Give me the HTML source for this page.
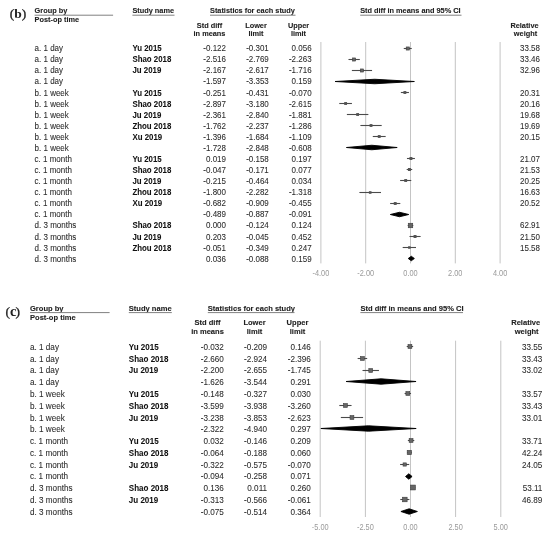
<!DOCTYPE html>
<html><head><meta charset="utf-8"><title>Forest plots</title><style>
html,body{margin:0;padding:0;background:#fff;}
svg{display:block;filter:blur(0.3px);}
text{font-family:"Liberation Sans",Arial,sans-serif;}
.lab{font-family:"Liberation Serif","Times New Roman",serif;font-weight:bold;font-size:13.5px;fill:#222;}
.hd{font-weight:bold;font-size:7.35px;fill:#222;stroke:#222;stroke-width:0.1px;}
.sn{font-weight:bold;font-size:8.3px;fill:#111;stroke:#111;stroke-width:0.05px;}
.gp{font-size:8.25px;fill:#2c2c2c;stroke:#2c2c2c;stroke-width:0.08px;}
.nm{font-size:8.25px;fill:#2a2a2a;stroke:#2a2a2a;stroke-width:0.06px;}
.pc .lt{font-size:14.5px;}
.pr{font-weight:normal;stroke:#222;stroke-width:0.3px;}
.ax{font-size:8.2px;fill:#9a9a9a;}
.pc .gp{font-size:8.4px;}
.pc .hd{font-size:7.55px;}
.pc .nm{font-size:8.4px;}
.pc .sn{font-size:8.45px;}
</style></head>
<body><svg width="550" height="534" viewBox="0 0 550 534">
<rect width="550" height="534" fill="#fff"/>
<g class="pb">
<text x="9.80" y="18.20" class="lab"><tspan class="pr">(</tspan><tspan class="lt">b</tspan><tspan class="pr" dx="0">)</tspan></text>
<text x="34.60" y="13.10" class="hd">Group by</text>
<text x="34.60" y="22.10" class="hd">Post-op time</text>
<line x1="34.60" y1="15.20" x2="113.10" y2="15.20" stroke="#808080" stroke-width="1"/>
<text x="132.40" y="13.10" class="hd">Study name</text>
<line x1="132.40" y1="15.20" x2="174.50" y2="15.20" stroke="#808080" stroke-width="1"/>
<text x="210.00" y="13.10" class="hd">Statistics for each study</text>
<line x1="210.00" y1="15.20" x2="295.50" y2="15.20" stroke="#808080" stroke-width="1"/>
<text x="360.20" y="13.10" class="hd">Std diff in means and 95% CI</text>
<line x1="360.20" y1="15.20" x2="461.50" y2="15.20" stroke="#808080" stroke-width="1"/>
<text x="209.50" y="27.50" class="hd" text-anchor="middle">Std diff</text>
<text x="209.50" y="35.60" class="hd" text-anchor="middle">in means</text>
<text x="256.00" y="27.50" class="hd" text-anchor="middle">Lower</text>
<text x="256.00" y="35.60" class="hd" text-anchor="middle">limit</text>
<text x="298.50" y="27.50" class="hd" text-anchor="middle">Upper</text>
<text x="298.50" y="35.60" class="hd" text-anchor="middle">limit</text>
<text x="524.50" y="27.50" class="hd" text-anchor="middle">Relative</text>
<text x="525.50" y="35.60" class="hd" text-anchor="middle">weight</text>
<line x1="320.90" y1="42.00" x2="320.90" y2="263.40" stroke="#c4c4c4" stroke-width="1"/>
<text transform="translate(320.90 275.80) scale(0.9 1)" class="ax" text-anchor="middle">-4.00</text>
<line x1="365.70" y1="42.00" x2="365.70" y2="263.40" stroke="#c4c4c4" stroke-width="1"/>
<text transform="translate(365.70 275.80) scale(0.9 1)" class="ax" text-anchor="middle">-2.00</text>
<line x1="410.50" y1="42.00" x2="410.50" y2="263.40" stroke="#c4c4c4" stroke-width="1"/>
<text transform="translate(410.50 275.80) scale(0.9 1)" class="ax" text-anchor="middle">0.00</text>
<line x1="455.30" y1="42.00" x2="455.30" y2="263.40" stroke="#c4c4c4" stroke-width="1"/>
<text transform="translate(455.30 275.80) scale(0.9 1)" class="ax" text-anchor="middle">2.00</text>
<line x1="500.10" y1="42.00" x2="500.10" y2="263.40" stroke="#c4c4c4" stroke-width="1"/>
<text transform="translate(500.10 275.80) scale(0.9 1)" class="ax" text-anchor="middle">4.00</text>
<text transform="translate(34.60 51.20) scale(0.97 1)" class="gp">a. 1 day</text>
<text transform="translate(132.40 51.20) scale(0.95 1)" class="sn">Yu 2015</text>
<text transform="translate(226.00 51.20) scale(0.97 1)" class="nm" text-anchor="end">-0.122</text>
<text transform="translate(268.80 51.20) scale(0.97 1)" class="nm" text-anchor="end">-0.301</text>
<text transform="translate(311.60 51.20) scale(0.97 1)" class="nm" text-anchor="end">0.056</text>
<text transform="translate(540.00 51.20) scale(0.97 1)" class="nm" text-anchor="end">33.58</text>
<line x1="403.76" y1="48.50" x2="411.75" y2="48.50" stroke="#4a4a4a" stroke-width="1.1"/>
<rect x="406.21" y="46.95" width="3.11" height="3.11" fill="#666" stroke="#3c3c3c" stroke-width="0.6"/>
<text transform="translate(34.60 62.28) scale(0.97 1)" class="gp">a. 1 day</text>
<text transform="translate(132.40 62.28) scale(0.95 1)" class="sn">Shao 2018</text>
<text transform="translate(226.00 62.28) scale(0.97 1)" class="nm" text-anchor="end">-2.516</text>
<text transform="translate(268.80 62.28) scale(0.97 1)" class="nm" text-anchor="end">-2.769</text>
<text transform="translate(311.60 62.28) scale(0.97 1)" class="nm" text-anchor="end">-2.263</text>
<text transform="translate(540.00 62.28) scale(0.97 1)" class="nm" text-anchor="end">33.46</text>
<line x1="348.47" y1="59.50" x2="359.81" y2="59.50" stroke="#4a4a4a" stroke-width="1.1"/>
<rect x="352.59" y="57.95" width="3.10" height="3.10" fill="#666" stroke="#3c3c3c" stroke-width="0.6"/>
<text transform="translate(34.60 73.36) scale(0.97 1)" class="gp">a. 1 day</text>
<text transform="translate(132.40 73.36) scale(0.95 1)" class="sn">Ju 2019</text>
<text transform="translate(226.00 73.36) scale(0.97 1)" class="nm" text-anchor="end">-2.167</text>
<text transform="translate(268.80 73.36) scale(0.97 1)" class="nm" text-anchor="end">-2.617</text>
<text transform="translate(311.60 73.36) scale(0.97 1)" class="nm" text-anchor="end">-1.716</text>
<text transform="translate(540.00 73.36) scale(0.97 1)" class="nm" text-anchor="end">32.96</text>
<line x1="351.88" y1="70.50" x2="372.06" y2="70.50" stroke="#4a4a4a" stroke-width="1.1"/>
<rect x="360.42" y="68.96" width="3.07" height="3.07" fill="#666" stroke="#3c3c3c" stroke-width="0.6"/>
<text transform="translate(34.60 84.44) scale(0.97 1)" class="gp">a. 1 day</text>
<text transform="translate(226.00 84.44) scale(0.97 1)" class="nm" text-anchor="end">-1.597</text>
<text transform="translate(268.80 84.44) scale(0.97 1)" class="nm" text-anchor="end">-3.353</text>
<text transform="translate(311.60 84.44) scale(0.97 1)" class="nm" text-anchor="end">0.159</text>
<polygon points="335.09,81.50 374.73,79.25 414.36,81.50 374.73,83.75" fill="#000" stroke="#000" stroke-width="0.9" stroke-linejoin="round"/>
<text transform="translate(34.60 95.52) scale(0.97 1)" class="gp">b. 1 week</text>
<text transform="translate(132.40 95.52) scale(0.95 1)" class="sn">Yu 2015</text>
<text transform="translate(226.00 95.52) scale(0.97 1)" class="nm" text-anchor="end">-0.251</text>
<text transform="translate(268.80 95.52) scale(0.97 1)" class="nm" text-anchor="end">-0.431</text>
<text transform="translate(311.60 95.52) scale(0.97 1)" class="nm" text-anchor="end">-0.070</text>
<text transform="translate(540.00 95.52) scale(0.97 1)" class="nm" text-anchor="end">20.31</text>
<line x1="400.85" y1="92.50" x2="408.93" y2="92.50" stroke="#4a4a4a" stroke-width="1.1"/>
<rect x="403.44" y="91.06" width="2.88" height="2.88" fill="#525252"/>
<text transform="translate(34.60 106.60) scale(0.97 1)" class="gp">b. 1 week</text>
<text transform="translate(132.40 106.60) scale(0.95 1)" class="sn">Shao 2018</text>
<text transform="translate(226.00 106.60) scale(0.97 1)" class="nm" text-anchor="end">-2.897</text>
<text transform="translate(268.80 106.60) scale(0.97 1)" class="nm" text-anchor="end">-3.180</text>
<text transform="translate(311.60 106.60) scale(0.97 1)" class="nm" text-anchor="end">-2.615</text>
<text transform="translate(540.00 106.60) scale(0.97 1)" class="nm" text-anchor="end">20.16</text>
<line x1="339.27" y1="103.50" x2="351.92" y2="103.50" stroke="#4a4a4a" stroke-width="1.1"/>
<rect x="344.17" y="102.06" width="2.87" height="2.87" fill="#525252"/>
<text transform="translate(34.60 117.68) scale(0.97 1)" class="gp">b. 1 week</text>
<text transform="translate(132.40 117.68) scale(0.95 1)" class="sn">Ju 2019</text>
<text transform="translate(226.00 117.68) scale(0.97 1)" class="nm" text-anchor="end">-2.361</text>
<text transform="translate(268.80 117.68) scale(0.97 1)" class="nm" text-anchor="end">-2.840</text>
<text transform="translate(311.60 117.68) scale(0.97 1)" class="nm" text-anchor="end">-1.881</text>
<text transform="translate(540.00 117.68) scale(0.97 1)" class="nm" text-anchor="end">19.68</text>
<line x1="346.88" y1="114.50" x2="368.37" y2="114.50" stroke="#4a4a4a" stroke-width="1.1"/>
<rect x="356.19" y="113.08" width="2.84" height="2.84" fill="#525252"/>
<text transform="translate(34.60 128.76) scale(0.97 1)" class="gp">b. 1 week</text>
<text transform="translate(132.40 128.76) scale(0.95 1)" class="sn">Zhou 2018</text>
<text transform="translate(226.00 128.76) scale(0.97 1)" class="nm" text-anchor="end">-1.762</text>
<text transform="translate(268.80 128.76) scale(0.97 1)" class="nm" text-anchor="end">-2.237</text>
<text transform="translate(311.60 128.76) scale(0.97 1)" class="nm" text-anchor="end">-1.286</text>
<text transform="translate(540.00 128.76) scale(0.97 1)" class="nm" text-anchor="end">19.69</text>
<line x1="360.39" y1="125.50" x2="381.69" y2="125.50" stroke="#4a4a4a" stroke-width="1.1"/>
<rect x="369.61" y="124.08" width="2.84" height="2.84" fill="#525252"/>
<text transform="translate(34.60 139.84) scale(0.97 1)" class="gp">b. 1 week</text>
<text transform="translate(132.40 139.84) scale(0.95 1)" class="sn">Xu 2019</text>
<text transform="translate(226.00 139.84) scale(0.97 1)" class="nm" text-anchor="end">-1.396</text>
<text transform="translate(268.80 139.84) scale(0.97 1)" class="nm" text-anchor="end">-1.684</text>
<text transform="translate(311.60 139.84) scale(0.97 1)" class="nm" text-anchor="end">-1.109</text>
<text transform="translate(540.00 139.84) scale(0.97 1)" class="nm" text-anchor="end">20.15</text>
<line x1="372.78" y1="136.50" x2="385.66" y2="136.50" stroke="#4a4a4a" stroke-width="1.1"/>
<rect x="377.79" y="135.06" width="2.87" height="2.87" fill="#525252"/>
<text transform="translate(34.60 150.92) scale(0.97 1)" class="gp">b. 1 week</text>
<text transform="translate(226.00 150.92) scale(0.97 1)" class="nm" text-anchor="end">-1.728</text>
<text transform="translate(268.80 150.92) scale(0.97 1)" class="nm" text-anchor="end">-2.848</text>
<text transform="translate(311.60 150.92) scale(0.97 1)" class="nm" text-anchor="end">-0.608</text>
<polygon points="346.40,147.50 371.79,145.25 397.18,147.50 371.79,149.75" fill="#000" stroke="#000" stroke-width="0.9" stroke-linejoin="round"/>
<text transform="translate(34.60 162.00) scale(0.97 1)" class="gp">c. 1 month</text>
<text transform="translate(132.40 162.00) scale(0.95 1)" class="sn">Yu 2015</text>
<text transform="translate(226.00 162.00) scale(0.97 1)" class="nm" text-anchor="end">0.019</text>
<text transform="translate(268.80 162.00) scale(0.97 1)" class="nm" text-anchor="end">-0.158</text>
<text transform="translate(311.60 162.00) scale(0.97 1)" class="nm" text-anchor="end">0.197</text>
<text transform="translate(540.00 162.00) scale(0.97 1)" class="nm" text-anchor="end">21.07</text>
<line x1="406.96" y1="158.50" x2="414.91" y2="158.50" stroke="#4a4a4a" stroke-width="1.1"/>
<rect x="409.46" y="157.03" width="2.94" height="2.94" fill="#525252"/>
<text transform="translate(34.60 173.08) scale(0.97 1)" class="gp">c. 1 month</text>
<text transform="translate(132.40 173.08) scale(0.95 1)" class="sn">Shao 2018</text>
<text transform="translate(226.00 173.08) scale(0.97 1)" class="nm" text-anchor="end">-0.047</text>
<text transform="translate(268.80 173.08) scale(0.97 1)" class="nm" text-anchor="end">-0.171</text>
<text transform="translate(311.60 173.08) scale(0.97 1)" class="nm" text-anchor="end">0.077</text>
<text transform="translate(540.00 173.08) scale(0.97 1)" class="nm" text-anchor="end">21.53</text>
<line x1="406.67" y1="169.50" x2="412.22" y2="169.50" stroke="#4a4a4a" stroke-width="1.1"/>
<rect x="407.96" y="168.02" width="2.97" height="2.97" fill="#525252"/>
<text transform="translate(34.60 184.16) scale(0.97 1)" class="gp">c. 1 month</text>
<text transform="translate(132.40 184.16) scale(0.95 1)" class="sn">Ju 2019</text>
<text transform="translate(226.00 184.16) scale(0.97 1)" class="nm" text-anchor="end">-0.215</text>
<text transform="translate(268.80 184.16) scale(0.97 1)" class="nm" text-anchor="end">-0.464</text>
<text transform="translate(311.60 184.16) scale(0.97 1)" class="nm" text-anchor="end">0.034</text>
<text transform="translate(540.00 184.16) scale(0.97 1)" class="nm" text-anchor="end">20.25</text>
<line x1="400.11" y1="180.50" x2="411.26" y2="180.50" stroke="#4a4a4a" stroke-width="1.1"/>
<rect x="404.24" y="179.06" width="2.88" height="2.88" fill="#525252"/>
<text transform="translate(34.60 195.24) scale(0.97 1)" class="gp">c. 1 month</text>
<text transform="translate(132.40 195.24) scale(0.95 1)" class="sn">Zhou 2018</text>
<text transform="translate(226.00 195.24) scale(0.97 1)" class="nm" text-anchor="end">-1.800</text>
<text transform="translate(268.80 195.24) scale(0.97 1)" class="nm" text-anchor="end">-2.282</text>
<text transform="translate(311.60 195.24) scale(0.97 1)" class="nm" text-anchor="end">-1.318</text>
<text transform="translate(540.00 195.24) scale(0.97 1)" class="nm" text-anchor="end">16.63</text>
<line x1="359.38" y1="192.50" x2="380.98" y2="192.50" stroke="#4a4a4a" stroke-width="1.1"/>
<rect x="368.88" y="191.20" width="2.61" height="2.61" fill="#525252"/>
<text transform="translate(34.60 206.32) scale(0.97 1)" class="gp">c. 1 month</text>
<text transform="translate(132.40 206.32) scale(0.95 1)" class="sn">Xu 2019</text>
<text transform="translate(226.00 206.32) scale(0.97 1)" class="nm" text-anchor="end">-0.682</text>
<text transform="translate(268.80 206.32) scale(0.97 1)" class="nm" text-anchor="end">-0.909</text>
<text transform="translate(311.60 206.32) scale(0.97 1)" class="nm" text-anchor="end">-0.455</text>
<text transform="translate(540.00 206.32) scale(0.97 1)" class="nm" text-anchor="end">20.52</text>
<line x1="390.14" y1="203.50" x2="400.31" y2="203.50" stroke="#4a4a4a" stroke-width="1.1"/>
<rect x="393.77" y="202.05" width="2.90" height="2.90" fill="#525252"/>
<text transform="translate(34.60 217.40) scale(0.97 1)" class="gp">c. 1 month</text>
<text transform="translate(226.00 217.40) scale(0.97 1)" class="nm" text-anchor="end">-0.489</text>
<text transform="translate(268.80 217.40) scale(0.97 1)" class="nm" text-anchor="end">-0.887</text>
<text transform="translate(311.60 217.40) scale(0.97 1)" class="nm" text-anchor="end">-0.091</text>
<polygon points="390.33,214.50 399.55,212.25 408.76,214.50 399.55,216.75" fill="#000" stroke="#000" stroke-width="0.9" stroke-linejoin="round"/>
<text transform="translate(34.60 228.48) scale(0.97 1)" class="gp">d. 3 months</text>
<text transform="translate(132.40 228.48) scale(0.95 1)" class="sn">Shao 2018</text>
<text transform="translate(226.00 228.48) scale(0.97 1)" class="nm" text-anchor="end">0.000</text>
<text transform="translate(268.80 228.48) scale(0.97 1)" class="nm" text-anchor="end">-0.124</text>
<text transform="translate(311.60 228.48) scale(0.97 1)" class="nm" text-anchor="end">0.124</text>
<text transform="translate(540.00 228.48) scale(0.97 1)" class="nm" text-anchor="end">62.91</text>
<line x1="407.72" y1="225.50" x2="413.28" y2="225.50" stroke="#4a4a4a" stroke-width="1.1"/>
<rect x="408.26" y="223.26" width="4.48" height="4.48" fill="#666" stroke="#3c3c3c" stroke-width="0.6"/>
<text transform="translate(34.60 239.56) scale(0.97 1)" class="gp">d. 3 months</text>
<text transform="translate(132.40 239.56) scale(0.95 1)" class="sn">Ju 2019</text>
<text transform="translate(226.00 239.56) scale(0.97 1)" class="nm" text-anchor="end">0.203</text>
<text transform="translate(268.80 239.56) scale(0.97 1)" class="nm" text-anchor="end">-0.045</text>
<text transform="translate(311.60 239.56) scale(0.97 1)" class="nm" text-anchor="end">0.452</text>
<text transform="translate(540.00 239.56) scale(0.97 1)" class="nm" text-anchor="end">21.50</text>
<line x1="409.49" y1="236.50" x2="420.62" y2="236.50" stroke="#4a4a4a" stroke-width="1.1"/>
<rect x="413.56" y="235.02" width="2.97" height="2.97" fill="#525252"/>
<text transform="translate(34.60 250.64) scale(0.97 1)" class="gp">d. 3 months</text>
<text transform="translate(132.40 250.64) scale(0.95 1)" class="sn">Zhou 2018</text>
<text transform="translate(226.00 250.64) scale(0.97 1)" class="nm" text-anchor="end">-0.051</text>
<text transform="translate(268.80 250.64) scale(0.97 1)" class="nm" text-anchor="end">-0.349</text>
<text transform="translate(311.60 250.64) scale(0.97 1)" class="nm" text-anchor="end">0.247</text>
<text transform="translate(540.00 250.64) scale(0.97 1)" class="nm" text-anchor="end">15.58</text>
<line x1="402.68" y1="247.50" x2="416.03" y2="247.50" stroke="#4a4a4a" stroke-width="1.1"/>
<rect x="408.09" y="246.24" width="2.53" height="2.53" fill="#525252"/>
<text transform="translate(34.60 261.72) scale(0.97 1)" class="gp">d. 3 months</text>
<text transform="translate(226.00 261.72) scale(0.97 1)" class="nm" text-anchor="end">0.036</text>
<text transform="translate(268.80 261.72) scale(0.97 1)" class="nm" text-anchor="end">-0.088</text>
<text transform="translate(311.60 261.72) scale(0.97 1)" class="nm" text-anchor="end">0.159</text>
<polygon points="408.23,258.50 411.31,256.25 414.36,258.50 411.31,260.75" fill="#000" stroke="#000" stroke-width="0.9" stroke-linejoin="round"/>
</g><g class="pc">
<text x="5.60" y="315.60" class="lab"><tspan class="pr">(</tspan><tspan class="lt">c</tspan><tspan class="pr" dx="-1.0">)</tspan></text>
<text x="30.00" y="311.00" class="hd">Group by</text>
<text x="30.00" y="319.60" class="hd">Post-op time</text>
<line x1="30.00" y1="312.60" x2="109.60" y2="312.60" stroke="#808080" stroke-width="1"/>
<text x="128.80" y="311.00" class="hd">Study name</text>
<line x1="128.80" y1="312.60" x2="171.80" y2="312.60" stroke="#808080" stroke-width="1"/>
<text x="207.80" y="311.00" class="hd">Statistics for each study</text>
<line x1="207.80" y1="312.60" x2="294.50" y2="312.60" stroke="#808080" stroke-width="1"/>
<text x="360.40" y="311.00" class="hd">Std diff in means and 95% CI</text>
<line x1="360.40" y1="312.60" x2="463.00" y2="312.60" stroke="#808080" stroke-width="1"/>
<text x="207.50" y="325.40" class="hd" text-anchor="middle">Std diff</text>
<text x="207.50" y="334.40" class="hd" text-anchor="middle">in means</text>
<text x="254.50" y="325.40" class="hd" text-anchor="middle">Lower</text>
<text x="254.50" y="334.40" class="hd" text-anchor="middle">limit</text>
<text x="297.50" y="325.40" class="hd" text-anchor="middle">Upper</text>
<text x="297.50" y="334.40" class="hd" text-anchor="middle">limit</text>
<text x="525.70" y="325.40" class="hd" text-anchor="middle">Relative</text>
<text x="526.70" y="334.40" class="hd" text-anchor="middle">weight</text>
<line x1="320.20" y1="340.70" x2="320.20" y2="517.00" stroke="#c4c4c4" stroke-width="1"/>
<text transform="translate(320.20 530.00) scale(0.9 1)" class="ax" text-anchor="middle">-5.00</text>
<line x1="365.40" y1="340.70" x2="365.40" y2="517.00" stroke="#c4c4c4" stroke-width="1"/>
<text transform="translate(365.40 530.00) scale(0.9 1)" class="ax" text-anchor="middle">-2.50</text>
<line x1="410.50" y1="340.70" x2="410.50" y2="517.00" stroke="#c4c4c4" stroke-width="1"/>
<text transform="translate(410.50 530.00) scale(0.9 1)" class="ax" text-anchor="middle">0.00</text>
<line x1="455.60" y1="340.70" x2="455.60" y2="517.00" stroke="#c4c4c4" stroke-width="1"/>
<text transform="translate(455.60 530.00) scale(0.9 1)" class="ax" text-anchor="middle">2.50</text>
<line x1="500.80" y1="340.70" x2="500.80" y2="517.00" stroke="#c4c4c4" stroke-width="1"/>
<text transform="translate(500.80 530.00) scale(0.9 1)" class="ax" text-anchor="middle">5.00</text>
<text transform="translate(30.00 349.90) scale(0.97 1)" class="gp">a. 1 day</text>
<text transform="translate(128.80 349.90) scale(0.95 1)" class="sn">Yu 2015</text>
<text transform="translate(223.80 349.90) scale(0.97 1)" class="nm" text-anchor="end">-0.032</text>
<text transform="translate(267.10 349.90) scale(0.97 1)" class="nm" text-anchor="end">-0.209</text>
<text transform="translate(310.90 349.90) scale(0.97 1)" class="nm" text-anchor="end">0.146</text>
<text transform="translate(542.40 349.90) scale(0.97 1)" class="nm" text-anchor="end">33.55</text>
<line x1="406.72" y1="346.50" x2="413.14" y2="346.50" stroke="#4a4a4a" stroke-width="1.1"/>
<rect x="408.00" y="344.58" width="3.84" height="3.84" fill="#666" stroke="#3c3c3c" stroke-width="0.6"/>
<text transform="translate(30.00 361.68) scale(0.97 1)" class="gp">a. 1 day</text>
<text transform="translate(128.80 361.68) scale(0.95 1)" class="sn">Shao 2018</text>
<text transform="translate(223.80 361.68) scale(0.97 1)" class="nm" text-anchor="end">-2.660</text>
<text transform="translate(267.10 361.68) scale(0.97 1)" class="nm" text-anchor="end">-2.924</text>
<text transform="translate(310.90 361.68) scale(0.97 1)" class="nm" text-anchor="end">-2.396</text>
<text transform="translate(542.40 361.68) scale(0.97 1)" class="nm" text-anchor="end">33.43</text>
<line x1="357.63" y1="358.50" x2="367.18" y2="358.50" stroke="#4a4a4a" stroke-width="1.1"/>
<rect x="360.49" y="356.58" width="3.83" height="3.83" fill="#666" stroke="#3c3c3c" stroke-width="0.6"/>
<text transform="translate(30.00 373.46) scale(0.97 1)" class="gp">a. 1 day</text>
<text transform="translate(128.80 373.46) scale(0.95 1)" class="sn">Ju 2019</text>
<text transform="translate(223.80 373.46) scale(0.97 1)" class="nm" text-anchor="end">-2.200</text>
<text transform="translate(267.10 373.46) scale(0.97 1)" class="nm" text-anchor="end">-2.655</text>
<text transform="translate(310.90 373.46) scale(0.97 1)" class="nm" text-anchor="end">-1.745</text>
<text transform="translate(542.40 373.46) scale(0.97 1)" class="nm" text-anchor="end">33.02</text>
<line x1="362.50" y1="370.50" x2="378.95" y2="370.50" stroke="#4a4a4a" stroke-width="1.1"/>
<rect x="368.82" y="368.60" width="3.81" height="3.81" fill="#666" stroke="#3c3c3c" stroke-width="0.6"/>
<text transform="translate(30.00 385.24) scale(0.97 1)" class="gp">a. 1 day</text>
<text transform="translate(223.80 385.24) scale(0.97 1)" class="nm" text-anchor="end">-1.626</text>
<text transform="translate(267.10 385.24) scale(0.97 1)" class="nm" text-anchor="end">-3.544</text>
<text transform="translate(310.90 385.24) scale(0.97 1)" class="nm" text-anchor="end">0.291</text>
<polygon points="346.12,381.50 381.10,378.80 416.06,381.50 381.10,384.20" fill="#000" stroke="#000" stroke-width="0.9" stroke-linejoin="round"/>
<text transform="translate(30.00 397.02) scale(0.97 1)" class="gp">b. 1 week</text>
<text transform="translate(128.80 397.02) scale(0.95 1)" class="sn">Yu 2015</text>
<text transform="translate(223.80 397.02) scale(0.97 1)" class="nm" text-anchor="end">-0.148</text>
<text transform="translate(267.10 397.02) scale(0.97 1)" class="nm" text-anchor="end">-0.327</text>
<text transform="translate(310.90 397.02) scale(0.97 1)" class="nm" text-anchor="end">0.030</text>
<text transform="translate(542.40 397.02) scale(0.97 1)" class="nm" text-anchor="end">33.57</text>
<line x1="404.59" y1="393.50" x2="411.04" y2="393.50" stroke="#4a4a4a" stroke-width="1.1"/>
<rect x="405.90" y="391.58" width="3.84" height="3.84" fill="#666" stroke="#3c3c3c" stroke-width="0.6"/>
<text transform="translate(30.00 408.80) scale(0.97 1)" class="gp">b. 1 week</text>
<text transform="translate(128.80 408.80) scale(0.95 1)" class="sn">Shao 2018</text>
<text transform="translate(223.80 408.80) scale(0.97 1)" class="nm" text-anchor="end">-3.599</text>
<text transform="translate(267.10 408.80) scale(0.97 1)" class="nm" text-anchor="end">-3.938</text>
<text transform="translate(310.90 408.80) scale(0.97 1)" class="nm" text-anchor="end">-3.260</text>
<text transform="translate(542.40 408.80) scale(0.97 1)" class="nm" text-anchor="end">33.43</text>
<line x1="339.30" y1="405.50" x2="351.56" y2="405.50" stroke="#4a4a4a" stroke-width="1.1"/>
<rect x="343.51" y="403.58" width="3.83" height="3.83" fill="#666" stroke="#3c3c3c" stroke-width="0.6"/>
<text transform="translate(30.00 420.58) scale(0.97 1)" class="gp">b. 1 week</text>
<text transform="translate(128.80 420.58) scale(0.95 1)" class="sn">Ju 2019</text>
<text transform="translate(223.80 420.58) scale(0.97 1)" class="nm" text-anchor="end">-3.238</text>
<text transform="translate(267.10 420.58) scale(0.97 1)" class="nm" text-anchor="end">-3.853</text>
<text transform="translate(310.90 420.58) scale(0.97 1)" class="nm" text-anchor="end">-2.623</text>
<text transform="translate(542.40 420.58) scale(0.97 1)" class="nm" text-anchor="end">33.01</text>
<line x1="340.84" y1="417.50" x2="363.08" y2="417.50" stroke="#4a4a4a" stroke-width="1.1"/>
<rect x="350.05" y="415.60" width="3.81" height="3.81" fill="#666" stroke="#3c3c3c" stroke-width="0.6"/>
<text transform="translate(30.00 432.36) scale(0.97 1)" class="gp">b. 1 week</text>
<text transform="translate(223.80 432.36) scale(0.97 1)" class="nm" text-anchor="end">-2.322</text>
<text transform="translate(267.10 432.36) scale(0.97 1)" class="nm" text-anchor="end">-4.940</text>
<text transform="translate(310.90 432.36) scale(0.97 1)" class="nm" text-anchor="end">0.297</text>
<polygon points="320.88,428.50 368.52,425.80 416.17,428.50 368.52,431.20" fill="#000" stroke="#000" stroke-width="0.9" stroke-linejoin="round"/>
<text transform="translate(30.00 444.14) scale(0.97 1)" class="gp">c. 1 month</text>
<text transform="translate(128.80 444.14) scale(0.95 1)" class="sn">Yu 2015</text>
<text transform="translate(223.80 444.14) scale(0.97 1)" class="nm" text-anchor="end">0.032</text>
<text transform="translate(267.10 444.14) scale(0.97 1)" class="nm" text-anchor="end">-0.146</text>
<text transform="translate(310.90 444.14) scale(0.97 1)" class="nm" text-anchor="end">0.209</text>
<text transform="translate(542.40 444.14) scale(0.97 1)" class="nm" text-anchor="end">33.71</text>
<line x1="407.86" y1="440.50" x2="414.28" y2="440.50" stroke="#4a4a4a" stroke-width="1.1"/>
<rect x="409.15" y="438.58" width="3.85" height="3.85" fill="#666" stroke="#3c3c3c" stroke-width="0.6"/>
<text transform="translate(30.00 455.92) scale(0.97 1)" class="gp">c. 1 month</text>
<text transform="translate(128.80 455.92) scale(0.95 1)" class="sn">Shao 2018</text>
<text transform="translate(223.80 455.92) scale(0.97 1)" class="nm" text-anchor="end">-0.064</text>
<text transform="translate(267.10 455.92) scale(0.97 1)" class="nm" text-anchor="end">-0.188</text>
<text transform="translate(310.90 455.92) scale(0.97 1)" class="nm" text-anchor="end">0.060</text>
<text transform="translate(542.40 455.92) scale(0.97 1)" class="nm" text-anchor="end">42.24</text>
<line x1="407.10" y1="452.50" x2="411.58" y2="452.50" stroke="#4a4a4a" stroke-width="1.1"/>
<rect x="407.18" y="450.34" width="4.32" height="4.32" fill="#666" stroke="#3c3c3c" stroke-width="0.6"/>
<text transform="translate(30.00 467.70) scale(0.97 1)" class="gp">c. 1 month</text>
<text transform="translate(128.80 467.70) scale(0.95 1)" class="sn">Ju 2019</text>
<text transform="translate(223.80 467.70) scale(0.97 1)" class="nm" text-anchor="end">-0.322</text>
<text transform="translate(267.10 467.70) scale(0.97 1)" class="nm" text-anchor="end">-0.575</text>
<text transform="translate(310.90 467.70) scale(0.97 1)" class="nm" text-anchor="end">-0.070</text>
<text transform="translate(542.40 467.70) scale(0.97 1)" class="nm" text-anchor="end">24.05</text>
<line x1="400.10" y1="464.50" x2="409.23" y2="464.50" stroke="#4a4a4a" stroke-width="1.1"/>
<rect x="403.06" y="462.88" width="3.23" height="3.23" fill="#666" stroke="#3c3c3c" stroke-width="0.6"/>
<text transform="translate(30.00 479.48) scale(0.97 1)" class="gp">c. 1 month</text>
<text transform="translate(223.80 479.48) scale(0.97 1)" class="nm" text-anchor="end">-0.094</text>
<text transform="translate(267.10 479.48) scale(0.97 1)" class="nm" text-anchor="end">-0.258</text>
<text transform="translate(310.90 479.48) scale(0.97 1)" class="nm" text-anchor="end">0.071</text>
<polygon points="405.54,476.50 408.80,473.80 412.08,476.50 408.80,479.20" fill="#000" stroke="#000" stroke-width="0.9" stroke-linejoin="round"/>
<text transform="translate(30.00 491.26) scale(0.97 1)" class="gp">d. 3 months</text>
<text transform="translate(128.80 491.26) scale(0.95 1)" class="sn">Shao 2018</text>
<text transform="translate(223.80 491.26) scale(0.97 1)" class="nm" text-anchor="end">0.136</text>
<text transform="translate(267.10 491.26) scale(0.97 1)" class="nm" text-anchor="end">0.011</text>
<text transform="translate(310.90 491.26) scale(0.97 1)" class="nm" text-anchor="end">0.260</text>
<text transform="translate(542.40 491.26) scale(0.97 1)" class="nm" text-anchor="end">53.11</text>
<line x1="410.70" y1="487.50" x2="415.20" y2="487.50" stroke="#4a4a4a" stroke-width="1.1"/>
<rect x="410.53" y="485.07" width="4.86" height="4.86" fill="#666" stroke="#3c3c3c" stroke-width="0.6"/>
<text transform="translate(30.00 503.04) scale(0.97 1)" class="gp">d. 3 months</text>
<text transform="translate(128.80 503.04) scale(0.95 1)" class="sn">Ju 2019</text>
<text transform="translate(223.80 503.04) scale(0.97 1)" class="nm" text-anchor="end">-0.313</text>
<text transform="translate(267.10 503.04) scale(0.97 1)" class="nm" text-anchor="end">-0.566</text>
<text transform="translate(310.90 503.04) scale(0.97 1)" class="nm" text-anchor="end">-0.061</text>
<text transform="translate(542.40 503.04) scale(0.97 1)" class="nm" text-anchor="end">46.89</text>
<line x1="400.27" y1="499.50" x2="409.40" y2="499.50" stroke="#4a4a4a" stroke-width="1.1"/>
<rect x="402.56" y="497.22" width="4.56" height="4.56" fill="#666" stroke="#3c3c3c" stroke-width="0.6"/>
<text transform="translate(30.00 514.82) scale(0.97 1)" class="gp">d. 3 months</text>
<text transform="translate(223.80 514.82) scale(0.97 1)" class="nm" text-anchor="end">-0.075</text>
<text transform="translate(267.10 514.82) scale(0.97 1)" class="nm" text-anchor="end">-0.514</text>
<text transform="translate(310.90 514.82) scale(0.97 1)" class="nm" text-anchor="end">0.364</text>
<polygon points="400.91,511.50 409.14,508.80 417.38,511.50 409.14,514.20" fill="#000" stroke="#000" stroke-width="0.9" stroke-linejoin="round"/>
</g>
</svg></body></html>
